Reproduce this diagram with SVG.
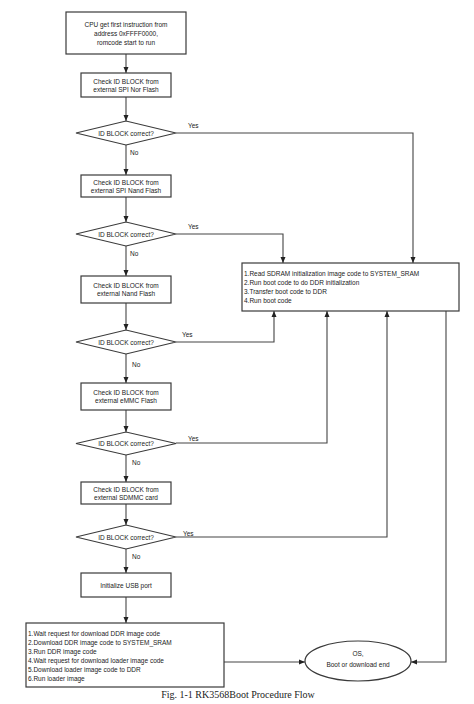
<svg xmlns="http://www.w3.org/2000/svg" width="474" height="704" viewBox="0 0 474 704">
<style>
.box{fill:#fff;stroke:#3a3a3a;stroke-width:1.2}
.ln{fill:none;stroke:#444;stroke-width:1.1}
.t{font-family:"Liberation Sans",Arial,sans-serif;font-size:6.5px;fill:#1a1a1a}
.c{text-anchor:middle}
.cap{font-family:"Liberation Serif","Times New Roman",serif;font-size:10px;fill:#222;text-anchor:middle}
</style>
<defs>
<marker id="ah" markerUnits="userSpaceOnUse" markerWidth="6" markerHeight="6" viewBox="0 0 6 6" refX="6" refY="3" orient="auto">
<path d="M0,0.5 L6,3 L0,5.5 Z" fill="#222"/>
</marker>
</defs>
<rect width="474" height="704" fill="#fff"/>
<g id="connectors">
<line class="ln" x1="126" y1="54" x2="126" y2="73" marker-end="url(#ah)"/>
<line class="ln" x1="126" y1="97" x2="126" y2="121" marker-end="url(#ah)"/>
<line class="ln" x1="126" y1="145" x2="126" y2="175" marker-end="url(#ah)"/>
<line class="ln" x1="126" y1="197" x2="126" y2="222" marker-end="url(#ah)"/>
<line class="ln" x1="126" y1="246" x2="126" y2="276" marker-end="url(#ah)"/>
<line class="ln" x1="126" y1="303" x2="126" y2="330" marker-end="url(#ah)"/>
<line class="ln" x1="126" y1="354" x2="126" y2="383" marker-end="url(#ah)"/>
<line class="ln" x1="126" y1="410" x2="126" y2="432" marker-end="url(#ah)"/>
<line class="ln" x1="126" y1="455" x2="126" y2="482" marker-end="url(#ah)"/>
<line class="ln" x1="126" y1="504" x2="126" y2="525" marker-end="url(#ah)"/>
<line class="ln" x1="126" y1="549" x2="126" y2="573" marker-end="url(#ah)"/>
<line class="ln" x1="126" y1="597" x2="126" y2="623" marker-end="url(#ah)"/>
<polyline class="ln" points="176,133 413,133 413,263" marker-end="url(#ah)"/>
<polyline class="ln" points="176,234 283,234 283,263" marker-end="url(#ah)"/>
<polyline class="ln" points="176,342 274,342 274,311" marker-end="url(#ah)"/>
<polyline class="ln" points="176,443 327,443 327,311" marker-end="url(#ah)"/>
<polyline class="ln" points="176,537 387,537 387,311" marker-end="url(#ah)"/>
<line class="ln" x1="224" y1="662" x2="305" y2="662" marker-end="url(#ah)"/>
<polyline class="ln" points="446,311 446,662 411,662" marker-end="url(#ah)"/>
<text class="t" x="188" y="128">Yes</text>
<text class="t" x="188" y="229">Yes</text>
<text class="t" x="182" y="337">Yes</text>
<text class="t" x="188" y="441">Yes</text>
<text class="t" x="183" y="536">Yes</text>
<text class="t" x="130" y="155">No</text>
<text class="t" x="130" y="256">No</text>
<text class="t" x="132" y="367">No</text>
<text class="t" x="132" y="465">No</text>
<text class="t" x="132" y="559">No</text>
</g>
<g id="start">
<rect class="box" x="66" y="12" width="120" height="42"/>
<text class="t c" x="126" y="26.5">CPU get first instruction from</text>
<text class="t c" x="126" y="35.5">address 0xFFFF0000,</text>
<text class="t c" x="126" y="44.5">romcode start to run</text>
</g>
<g id="spi-nor">
<rect class="box" x="81" y="73" width="90" height="24"/>
<text class="t c" x="126" y="83.5">Check ID BLOCK from</text>
<text class="t c" x="126" y="92">external SPI Nor Flash</text>
</g>
<g id="dec1">
<polygon class="box" points="76,133 126,121 176,133 126,145"/>
<text class="t c" x="126" y="135.5">ID BLOCK correct?</text>
</g>
<g id="spi-nand">
<rect class="box" x="81" y="175" width="90" height="22"/>
<text class="t c" x="126" y="184.5">Check ID BLOCK from</text>
<text class="t c" x="126" y="193">external SPI Nand Flash</text>
</g>
<g id="dec2">
<polygon class="box" points="76,234 126,222 176,234 126,246"/>
<text class="t c" x="126" y="236.5">ID BLOCK correct?</text>
</g>
<g id="nand">
<rect class="box" x="81" y="276" width="90" height="27"/>
<text class="t c" x="126" y="287.5">Check ID BLOCK from</text>
<text class="t c" x="126" y="296">external Nand Flash</text>
</g>
<g id="dec3">
<polygon class="box" points="76,342 126,330 176,342 126,354"/>
<text class="t c" x="126" y="344.5">ID BLOCK correct?</text>
</g>
<g id="emmc">
<rect class="box" x="81" y="383" width="90" height="27"/>
<text class="t c" x="126" y="394.5">Check ID BLOCK from</text>
<text class="t c" x="126" y="403">external eMMC Flash</text>
</g>
<g id="dec4">
<polygon class="box" points="76,443.5 126,432 176,443.5 126,455"/>
<text class="t c" x="126" y="446">ID BLOCK correct?</text>
</g>
<g id="sdmmc">
<rect class="box" x="81" y="482" width="90" height="22"/>
<text class="t c" x="126" y="491.5">Check ID BLOCK from</text>
<text class="t c" x="126" y="500">external SDMMC card</text>
</g>
<g id="dec5">
<polygon class="box" points="76,537 126,525 176,537 126,549"/>
<text class="t c" x="126" y="539.5">ID BLOCK correct?</text>
</g>
<g id="usb">
<rect class="box" x="81" y="573" width="90" height="24"/>
<text class="t c" x="126" y="587.5">Initialize USB port</text>
</g>
<g id="boot-code">
<rect class="box" x="242" y="263" width="217" height="48"/>
<text class="t" x="244" y="276">1.Read SDRAM initialization image code to SYSTEM_SRAM</text>
<text class="t" x="244" y="285">2.Run boot code to do DDR initialization</text>
<text class="t" x="244" y="294">3.Transfer boot code to DDR</text>
<text class="t" x="244" y="303">4.Run boot code</text>
</g>
<g id="download">
<rect class="box" x="26" y="623" width="198" height="64"/>
<text class="t" x="28" y="636">1.Wait request for download DDR image code</text>
<text class="t" x="28" y="645">2.Download DDR image code to SYSTEM_SRAM</text>
<text class="t" x="28" y="654">3.Run DDR image code</text>
<text class="t" x="28" y="663">4.Wait request for download loader image code</text>
<text class="t" x="28" y="672">5.Download loader image code to DDR</text>
<text class="t" x="28" y="681">6.Run loader image</text>
</g>
<g id="end">
<ellipse class="box" cx="358" cy="661" rx="53" ry="20"/>
<text class="t c" x="358" y="656">OS,</text>
<text class="t c" x="358" y="667">Boot or download end</text>
</g>
<text class="cap" x="238" y="698">Fig. 1-1 RK3568Boot Procedure Flow</text>
</svg>
